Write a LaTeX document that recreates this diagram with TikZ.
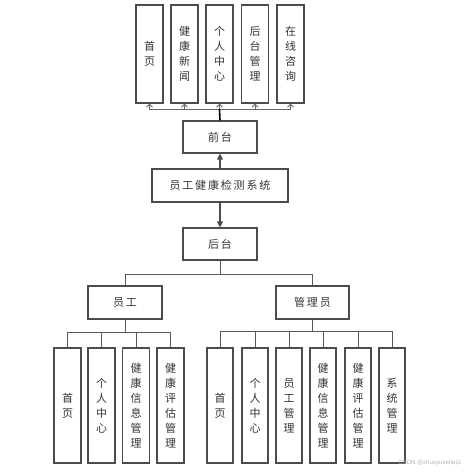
\documentclass[tikz,border=0pt]{standalone}
\usepackage{fontspec}
\setmainfont{Noto Sans CJK SC}
\newfontfamily\wm{Liberation Sans}
\usetikzlibrary{arrows.meta}
\tikzset{
  box/.style={draw=black!70, line width=1.1pt, fill=white, inner sep=0pt, text=black!80,
    font=\fontsize{11}{15}\selectfont, align=center},
  vbox/.style={box, minimum width=27pt, text width=12pt},
  hbox/.style={box, minimum height=32pt},
  conn/.style={draw=black!65, line width=0.9pt},
  topconn/.style={draw=black!60, line width=0.9pt, -{Straight Barb[length=3pt,width=6pt]}},
  mainarr/.style={draw=black!70, line width=1.1pt, -{Triangle[length=6pt,width=6pt]}},
}
\begin{document}
\begin{tikzpicture}[x=1pt,y=-1pt]
\useasboundingbox (0,0) rectangle (474,474);
% top row
\node[vbox, minimum height=98pt] (t1) at (149.5,54) {首\\页};
\node[vbox, minimum height=98pt] (t2) at (184.5,54) {健\\康\\新\\闻};
\node[vbox, minimum height=98pt] (t3) at (219.5,54) {个\\人\\中\\心};
\node[vbox, minimum height=98pt] (t4) at (255,54) {后\\台\\管\\理};
\node[vbox, minimum height=98pt] (t5) at (290.5,54) {在\\线\\咨\\询};
% middle
\node[hbox, minimum width=74pt] (qt) at (220,137) {前\,台};
\node[hbox, minimum width=136pt, minimum height=33pt] (sys) at (220,185.5) {员\,工\,健\,康\,检\,测\,系\,统};
\node[hbox, minimum width=74pt] (ht) at (220,244) {后\,台};
\node[hbox, minimum width=74pt, minimum height=33pt] (yg) at (125,302.5) {员\,工};
\node[hbox, minimum width=73pt, minimum height=33pt] (gly) at (312.5,302.5) {管\,理\,员};
% employee children
\node[vbox, minimum height=115pt] (a1) at (67.5,405.5) {首\\页};
\node[vbox, minimum height=115pt] (a2) at (101.5,405.5) {个\\人\\中\\心};
\node[vbox, minimum height=115pt] (a3) at (136,405.5) {健\\康\\信\\息\\管\\理};
\node[vbox, minimum height=115pt] (a4) at (170.5,405.5) {健\\康\\评\\估\\管\\理};
% admin children
\node[vbox, minimum width=26pt, minimum height=115pt] (b1) at (220,405.5) {首\\页};
\node[vbox, minimum width=26pt, minimum height=115pt] (b2) at (255,405.5) {个\\人\\中\\心};
\node[vbox, minimum width=26pt, minimum height=115pt] (b3) at (289,405.5) {员\\工\\管\\理};
\node[vbox, minimum width=26pt, minimum height=115pt] (b4) at (323,405.5) {健\\康\\信\\息\\管\\理};
\node[vbox, minimum width=26pt, minimum height=115pt] (b5) at (358,405.5) {健\\康\\评\\估\\管\\理};
\node[vbox, minimum width=26pt, minimum height=115pt] (b6) at (392,405.5) {系\\统\\管\\理};
% connectors
\coordinate (j0) at (219.5,109);
\foreach \n in {t1,t2,t3,t4,t5} \draw[topconn] (j0) -| (\n.south);
\draw[draw=black, line width=1.6pt] (qt.north) -- (j0);
\draw[mainarr] (sys.north) -- (qt.south);
\draw[mainarr] (sys.south) -- (ht.north);
\coordinate (j1) at (220,274);
\draw[conn] (ht.south) -- (j1);
\draw[conn] (j1) -| (yg.north);
\draw[conn] (j1) -| (gly.north);
\coordinate (j2) at (125,332);
\draw[conn] (yg.south) -- (j2);
\foreach \n in {a1,a2,a3,a4} \draw[conn] (j2) -| (\n.north);
\coordinate (j3) at (312.5,331);
\draw[conn] (gly.south) -- (j3);
\foreach \n in {b1,b2,b3,b4,b5,b6} \draw[conn] (j3) -| (\n.north);
% watermark
\node[font=\wm\fontsize{6}{7}\selectfont, text=black!30, inner sep=0pt] (w) at (430,463) {CSDN @zhuoyuesheji1};
\end{tikzpicture}
\end{document}
